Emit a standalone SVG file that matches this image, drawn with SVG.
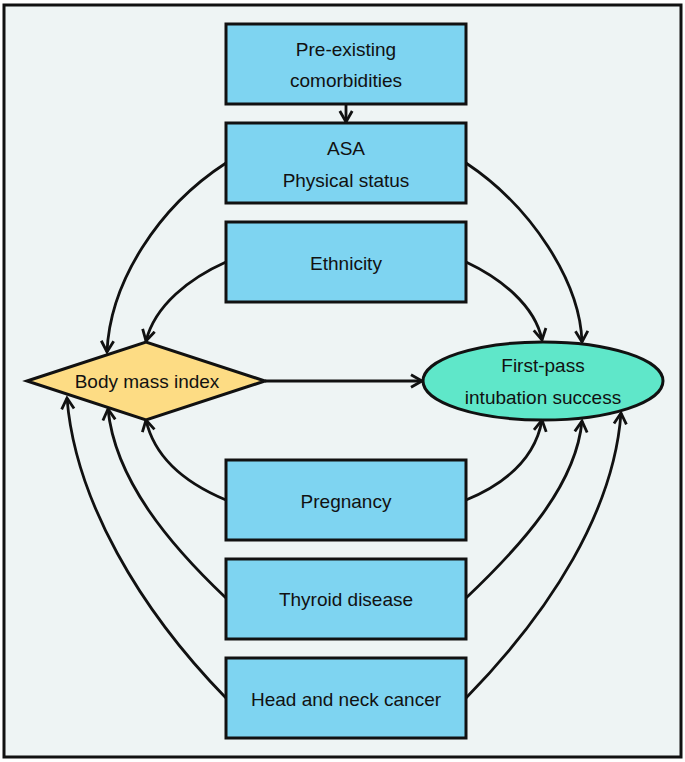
<svg xmlns="http://www.w3.org/2000/svg" width="685" height="762" viewBox="0 0 685 762">
<defs>
<style>
.box{fill:#7ED4F1;stroke:#111;stroke-width:3}
.lbl{font-family:"Liberation Sans",Arial,sans-serif;font-size:19px;fill:#111;text-anchor:middle}
.edge{fill:none;stroke:#111;stroke-width:2.8;marker-end:url(#arr)}
</style>
<marker id="arr" markerUnits="userSpaceOnUse" markerWidth="16" markerHeight="16" refX="12" refY="7" orient="auto" viewBox="0 0 16 14">
<path d="M1,0.8 L12,7 L1,13.2" fill="none" stroke="#111" stroke-width="2.8"/>
</marker>
</defs>
<rect x="4" y="5" width="677" height="752" fill="#EEF4F4" stroke="#111" stroke-width="3"/>
<g id="connectors">
<path class="edge" d="M346,104 L346,122"/>
<path class="edge" d="M265,381 L422,381"/>
<path class="edge" d="M226,163 C158,207 110,282 107,352"/>
<path class="edge" d="M226,262 C190,278 155,305 146,341"/>
<path class="edge" d="M466,163 C532,207 580,282 582,342"/>
<path class="edge" d="M466,262 C500,278 535,305 542,340"/>
<path class="edge" d="M226,500 C190,485 155,460 146,420"/>
<path class="edge" d="M226,598 C170,545 115,480 108,409"/>
<path class="edge" d="M226,698 C140,610 75,500 67,398"/>
<path class="edge" d="M466,500 C502,485 535,460 542,420"/>
<path class="edge" d="M466,598 C522,545 576,485 582,421"/>
<path class="edge" d="M466,698 C552,610 614,510 621,413"/>
</g>
<g id="pre">
<rect class="box" x="226" y="24" width="240" height="80"/>
<text class="lbl" x="346" y="56">Pre-existing</text>
<text class="lbl" x="346" y="87">comorbidities</text>
</g>
<g id="asa">
<rect class="box" x="226" y="123" width="240" height="80"/>
<text class="lbl" x="346" y="155">ASA</text>
<text class="lbl" x="346" y="187">Physical status</text>
</g>
<g id="ethnicity">
<rect class="box" x="226" y="222" width="240" height="80"/>
<text class="lbl" x="346" y="270">Ethnicity</text>
</g>
<g id="bmi">
<polygon points="27,381 146,342 265,381 146,420" fill="#FDDC84" stroke="#111" stroke-width="3"/>
<text class="lbl" x="147" y="388">Body mass index</text>
</g>
<g id="outcome">
<ellipse cx="543" cy="381" rx="120" ry="39" fill="#5FE7C9" stroke="#111" stroke-width="3"/>
<text class="lbl" x="543" y="372">First-pass</text>
<text class="lbl" x="543" y="404">intubation success</text>
</g>
<g id="pregnancy">
<rect class="box" x="226" y="460" width="240" height="80"/>
<text class="lbl" x="346" y="508">Pregnancy</text>
</g>
<g id="thyroid">
<rect class="box" x="226" y="559" width="240" height="80"/>
<text class="lbl" x="346" y="606">Thyroid disease</text>
</g>
<g id="headneck">
<rect class="box" x="226" y="658" width="240" height="80"/>
<text class="lbl" x="346" y="706">Head and neck cancer</text>
</g>
</svg>
